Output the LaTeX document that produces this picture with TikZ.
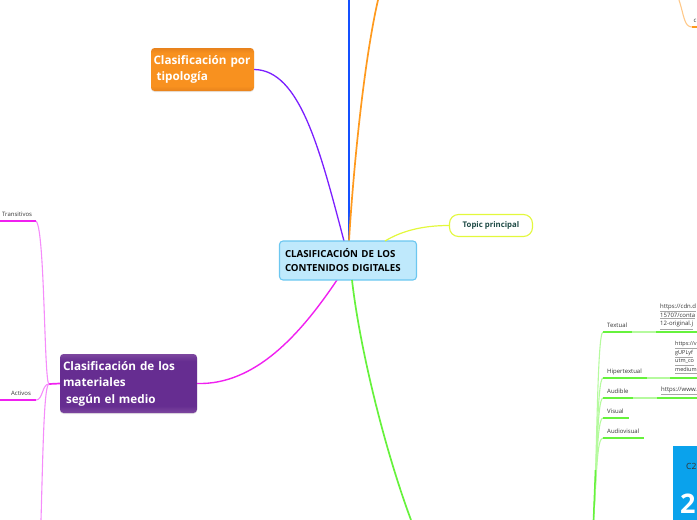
\documentclass[tikz,border=0pt]{standalone}
\usepackage{fontspec}
\setmainfont{Open Sans}
\usetikzlibrary{shadows}
\definecolor{gr}{HTML}{66F23C}
\definecolor{grl}{HTML}{B5FA9E}
\definecolor{mg}{HTML}{F020F0}
\definecolor{mgl}{HTML}{F58CFA}
\definecolor{orb}{HTML}{FF9A1E}
\definecolor{orl}{HTML}{FFC98A}
\definecolor{purp}{HTML}{7B1FFF}
\definecolor{blu}{HTML}{1450FF}
\definecolor{lim}{HTML}{E3F83C}
\definecolor{txt}{HTML}{333333}
\definecolor{oredge}{HTML}{E8821C}
\definecolor{ormid}{HTML}{F8911F}
\definecolor{puedge}{HTML}{7D479F}
\definecolor{pumid}{HTML}{662D91}
\definecolor{rootfill}{HTML}{BFE9FC}
\definecolor{rootline}{HTML}{6CC7F0}
\definecolor{calblue}{HTML}{0AA2EC}
\definecolor{topictxt}{HTML}{1F4B46}
\pgfdeclareverticalshading{orshade}{100bp}{color(0bp)=(oredge);color(25bp)=(oredge);color(31bp)=(ormid);color(69bp)=(ormid);color(75bp)=(oredge);color(100bp)=(oredge)}
\pgfdeclareverticalshading{pushade}{100bp}{color(0bp)=(puedge);color(25bp)=(puedge);color(31bp)=(pumid);color(69bp)=(pumid);color(75bp)=(puedge);color(100bp)=(puedge)}
\newcommand{\lnk}[1]{\leavevmode\rlap{\textcolor{gray!70}{\underline{\phantom{#1}}}}#1}
\newcommand{\lowr}[1]{\leavevmode\raisebox{-2pt}{#1}}
\tikzset{
 x=1pt,y=-1pt,
 conn/.style={line width=1.1pt},
 under/.style={line width=1.7pt},
 small/.style={font=\fontsize{6}{7.5}\selectfont,text=txt,inner sep=0pt,anchor=base west},
 link/.style={font=\fontsize{6}{8.8}\selectfont,text=txt,inner sep=0pt,anchor=north west,align=left},
 main/.style={draw=none,rounded corners=3.5pt,text=white,font=\bfseries\fontsize{11.7}{16.5}\selectfont,align=left,inner sep=0pt,anchor=center,drop shadow={opacity=.2,shadow xshift=0pt,shadow yshift=-1pt}},
}
\begin{document}
\begin{tikzpicture}
\useasboundingbox (0,0) rectangle (697,520);
\coordinate (ctop) at (349,241);
\coordinate (cbot) at (352,280);
\coordinate (topblue) at (349,0);
\coordinate (toporange) at (378,0);
\draw[blu,line width=1.6pt] (ctop) -- (topblue);
\draw[orb,line width=1.7pt] (ctop) .. controls (352,190) and (362,70) .. (toporange);
\coordinate (ora) at (679,0);
\coordinate (orb1) at (692,27);
\coordinate (orb2) at (697,27);
\draw[orl,conn] (ora) .. controls (684,15) and (684,27) .. (orb1);
\draw[orb,under] (orb1) -- (orb2);
\node[small] (cfrag) at (693.5,22) {c};
\node[fill=calblue,minimum width=24pt,minimum height=74pt,inner sep=0pt,anchor=north west] (calbox) at (673,446) {};
\node[font=\fontsize{8.5}{10}\selectfont,text=txt,inner sep=0pt,anchor=base west] (cal1) at (686,469) {C2};
\node[font=\bfseries\fontsize{27}{30}\selectfont,text=white,inner sep=0pt,anchor=base west] (cal2) at (680,513.5) {2};
\node[main,shading=orshade,minimum width=103pt,minimum height=43pt,text width=98pt] (tipo) at (202.5,69.5) {\lowr{Clasificación por}\\\lowr{\hspace*{3pt}tipología}};
\draw[purp,line width=1.3pt] (tipo.east) .. controls (300,70) and (320,150) .. (344,241);
\node[main,shading=pushade,minimum width=137pt,minimum height=59pt,text width=131pt] (mat) at (128.5,383.5) {\lowr{Clasificación de los}\\\lowr{materiales}\\\lowr{\hspace*{3pt}según el medio}};
\draw[mg,line width=1.4pt] (mat.east) .. controls (255,385) and (300,335) .. (337,280);
\node[draw=rootline,line width=1.1pt,fill=rootfill,rounded corners=3.5pt,minimum width=137pt,minimum height=39pt,text width=126pt,inner sep=0pt,align=left,font=\bfseries\fontsize{9.7}{14}\selectfont,text=black] (root) at (348,260.5) {CLASIFICACIÓN DE LOS\\CONTENIDOS DIGITALES};
\node[draw=lim,line width=1.1pt,fill=white,rounded corners=9pt,minimum width=83pt,minimum height=22pt,inner sep=0pt,font=\bfseries\fontsize{7.8}{9}\selectfont,text=topictxt] (topic) at (491,225.5) {Topic principal};
\draw[lim,line width=1.2pt] (topic.west) .. controls (420,225.5) and (400,232) .. (385,241);
\coordinate (gbot) at (411,520);
\draw[gr,line width=1.7pt] (cbot) .. controls (360,350) and (385,450) .. (gbot);
\coordinate (hub) at (49,384);
\draw[mg,under] (hub) -- (mat.west);
\coordinate (l1) at (36,221);
\draw[mgl,conn] (hub) .. controls (44,384) and (45,228) .. (l1);
\draw[mg,under] (0,221) coordinate (l1e) -- (l1);
\node[small] (trans) at (2,216) {Transitivos};
\coordinate (l2) at (36,400);
\draw[mgl,conn] (hub) .. controls (42,384) and (43,400) .. (l2);
\draw[mg,under] (0,400) coordinate (l2e) -- (l2);
\node[small] (act) at (11,395) {Activos};
\coordinate (l3) at (41,520);
\draw[mgl,conn] (hub) .. controls (44,384) and (43,450) .. (l3);
\coordinate (ghub) at (593.5,520);
\coordinate (t1) at (603,332);
\coordinate (t2) at (603,378);
\coordinate (t3) at (603,398);
\coordinate (t4) at (603,418);
\coordinate (t5) at (603,438);
\foreach \p/\yy in {t1/332,t2/378,t3/398,t4/418,t5/438}{
 \draw[grl,conn] (ghub) .. controls (597,470) and (597,\yy) .. (\p);
}
\draw[gr,line width=1.5pt] (ghub) -- (595.5,470);
\draw[gr,under] (t1) -- (632,332) coordinate (t1a);
\draw[grl,conn] (t1a) -- (656,332) coordinate (t1b);
\draw[gr,under] (t1b) -- (697,332);
\draw[gr,under] (t2) -- (647,378) coordinate (t2a);
\draw[grl,conn] (t2a) -- (670,378) coordinate (t2b);
\draw[gr,under] (t2b) -- (697,378);
\draw[gr,under] (t3) -- (633,398) coordinate (t3a);
\draw[grl,conn] (t3a) -- (657,398) coordinate (t3b);
\draw[gr,under] (t3b) -- (697,398);
\draw[gr,under] (t4) -- (629,418);
\draw[gr,under] (t5) -- (644,438);
\node[small] (n1) at (607,327.5) {Textual};
\node[small] (n2) at (607,373.5) {Hipertextual};
\node[small] (n3) at (607,393.5) {Audible};
\node[small] (n4) at (607,413.5) {Visual};
\node[small] (n5) at (607,433.5) {Audiovisual};
\node[link] (u1) at (660,303.5) {\lnk{https://cdn.d}\\\lnk{15707/conta}\\\lnk{12-original.j}};
\node[link,font=\fontsize{5.5}{8.8}\selectfont] (u2) at (675,341) {\lnk{https://v}\\\lnk{gUPLyf}\\\lnk{utm\_co}\\\lnk{medium}};
\node[link] (u3) at (661,386.5) {\lnk{https://www.}};
\end{tikzpicture}
\end{document}
